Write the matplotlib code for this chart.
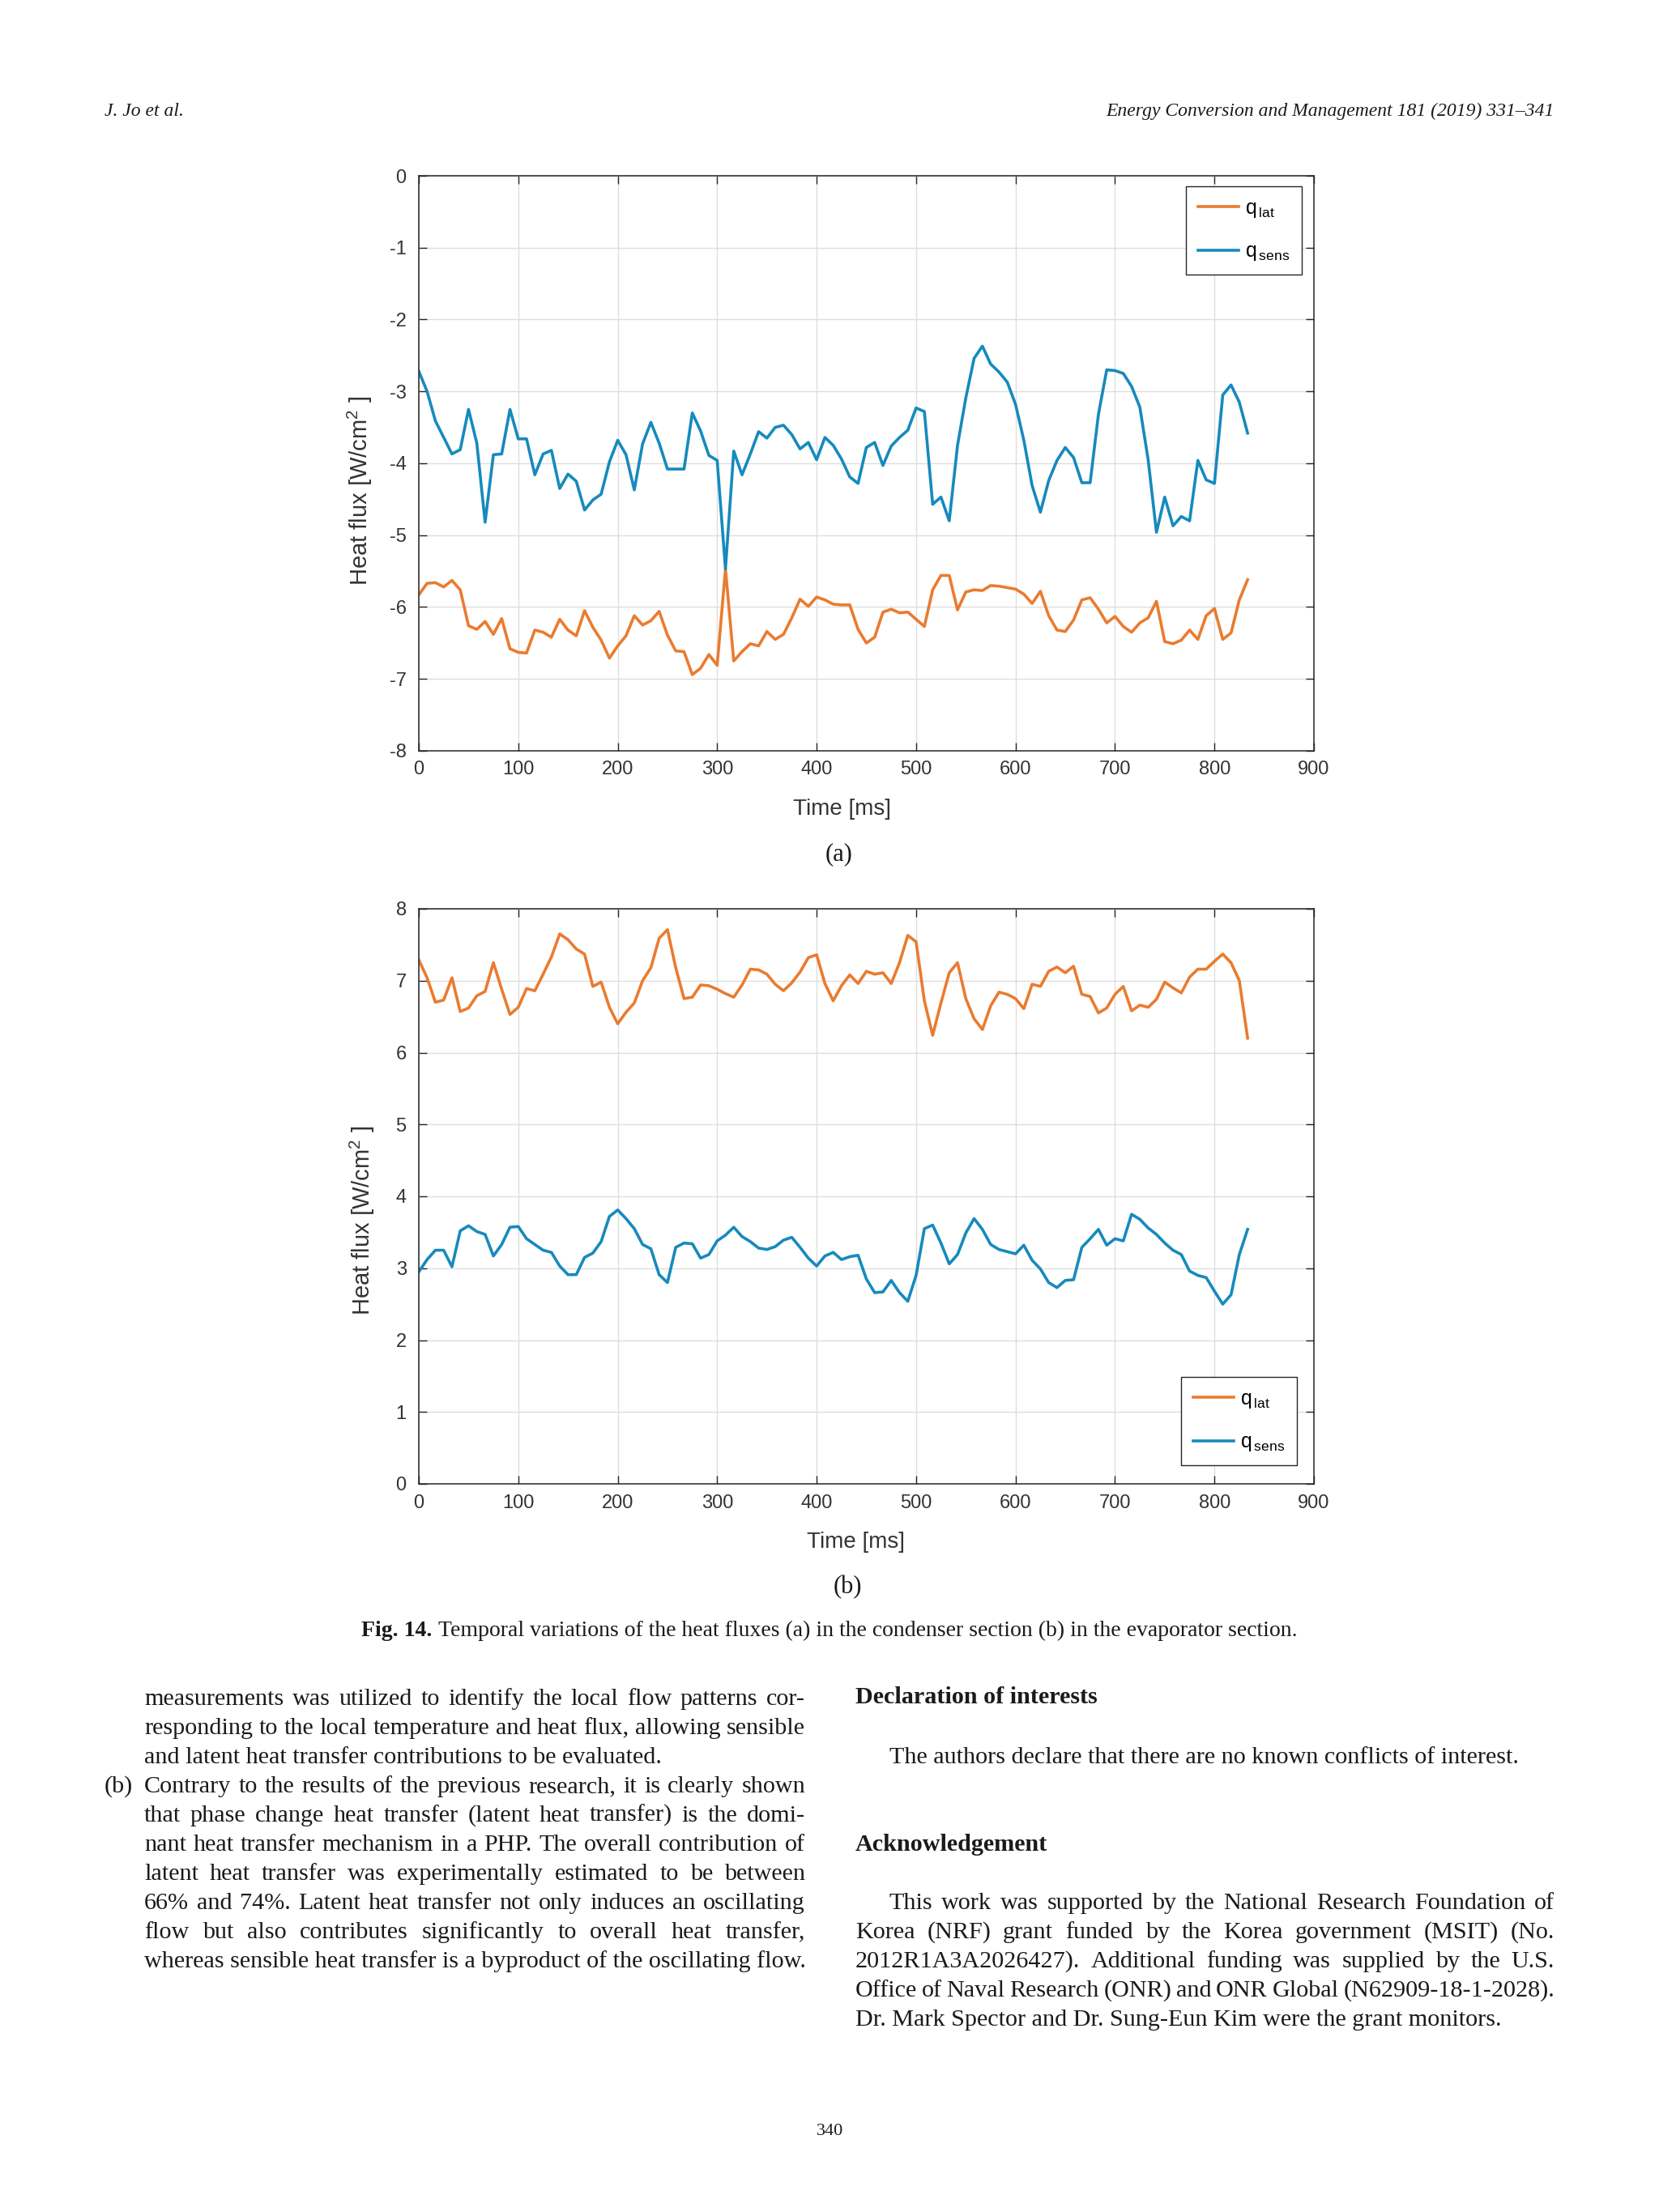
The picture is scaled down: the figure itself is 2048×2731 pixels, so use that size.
import numpy as np
import matplotlib
matplotlib.use("Agg")
import matplotlib.pyplot as plt

W, H = 2048, 2731
DPI = 100

# ---------------- data ----------------
sample_interval_ms = 25 / 3          # 120 Hz sampling
time_ms = np.arange(101) * sample_interval_ms

cond_lat = [-5.83, -5.67, -5.66, -5.72, -5.63, -5.76, -6.26, -6.31, -6.20, -6.38,
            -6.16, -6.58, -6.63, -6.64, -6.32, -6.35, -6.42, -6.17, -6.32, -6.40,
            -6.05, -6.28, -6.46, -6.71, -6.54, -6.40, -6.12, -6.25, -6.19, -6.06,
            -6.39, -6.61, -6.62, -6.94, -6.85, -6.66, -6.81, -5.47, -6.75, -6.62,
            -6.51, -6.54, -6.34, -6.45, -6.38, -6.15, -5.89, -5.99, -5.86, -5.90,
            -5.96, -5.97, -5.97, -6.31, -6.50, -6.42, -6.07, -6.03, -6.08, -6.07,
            -6.17, -6.27, -5.76, -5.56, -5.56, -6.04, -5.79, -5.76, -5.77, -5.70,
            -5.71, -5.73, -5.75, -5.82, -5.95, -5.78, -6.12, -6.32, -6.34, -6.18,
            -5.90, -5.87, -6.03, -6.22, -6.13, -6.27, -6.35, -6.22, -6.15, -5.92,
            -6.48, -6.51, -6.46, -6.32, -6.45, -6.12, -6.02, -6.45, -6.36, -5.90,
            -5.62]

cond_sens = [-2.72, -3.00, -3.41, -3.64, -3.87, -3.81, -3.25, -3.72, -4.82, -3.88,
             -3.87, -3.25, -3.66, -3.66, -4.16, -3.87, -3.82, -4.35, -4.15, -4.25,
             -4.65, -4.51, -4.43, -3.98, -3.68, -3.88, -4.37, -3.73, -3.43, -3.72,
             -4.08, -4.08, -4.08, -3.30, -3.55, -3.89, -3.96, -5.47, -3.83, -4.16,
             -3.87, -3.56, -3.65, -3.50, -3.47, -3.60, -3.80, -3.71, -3.95, -3.64,
             -3.75, -3.94, -4.19, -4.28, -3.78, -3.71, -4.03, -3.76, -3.64, -3.54,
             -3.23, -3.28, -4.57, -4.47, -4.80, -3.75, -3.09, -2.54, -2.37, -2.62,
             -2.73, -2.87, -3.18, -3.68, -4.31, -4.68, -4.24, -3.96, -3.78, -3.92,
             -4.27, -4.27, -3.32, -2.70, -2.71, -2.75, -2.93, -3.22, -3.95, -4.96,
             -4.47, -4.87, -4.74, -4.80, -3.96, -4.23, -4.28, -3.05, -2.91, -3.15,
             -3.58]

evap_lat = [7.29, 7.04, 6.70, 6.73, 7.04, 6.57, 6.62, 6.79, 6.85, 7.25,
            6.88, 6.53, 6.63, 6.89, 6.86, 7.09, 7.33, 7.65, 7.57, 7.44,
            7.37, 6.92, 6.98, 6.63, 6.40, 6.56, 6.69, 7.00, 7.18, 7.59,
            7.71, 7.18, 6.75, 6.77, 6.94, 6.93, 6.88, 6.82, 6.77, 6.94,
            7.16, 7.15, 7.09, 6.95, 6.86, 6.97, 7.12, 7.32, 7.36, 6.96,
            6.72, 6.93, 7.08, 6.96, 7.13, 7.09, 7.11, 6.96, 7.25, 7.63,
            7.54, 6.72, 6.24, 6.69, 7.11, 7.25, 6.75, 6.47, 6.32, 6.65,
            6.84, 6.81, 6.75, 6.61, 6.95, 6.92, 7.13, 7.19, 7.11, 7.20,
            6.81, 6.78, 6.55, 6.62, 6.81, 6.92, 6.58, 6.66, 6.63, 6.74,
            6.98, 6.90, 6.83, 7.05, 7.16, 7.16, 7.27, 7.37, 7.25, 7.00,
            6.20]

evap_sens = [2.95, 3.12, 3.25, 3.25, 3.02, 3.52, 3.59, 3.51, 3.47, 3.17,
             3.33, 3.57, 3.58, 3.41, 3.33, 3.25, 3.22, 3.03, 2.91, 2.91,
             3.15, 3.21, 3.37, 3.72, 3.81, 3.69, 3.55, 3.33, 3.27, 2.91,
             2.80, 3.29, 3.35, 3.34, 3.14, 3.19, 3.38, 3.46, 3.57, 3.44,
             3.37, 3.28, 3.26, 3.30, 3.39, 3.43, 3.29, 3.14, 3.03, 3.17,
             3.22, 3.12, 3.16, 3.18, 2.85, 2.66, 2.67, 2.83, 2.66, 2.54,
             2.90, 3.55, 3.60, 3.35, 3.06, 3.19, 3.49, 3.69, 3.54, 3.33,
             3.26, 3.23, 3.20, 3.32, 3.11, 2.99, 2.80, 2.73, 2.83, 2.84,
             3.29, 3.41, 3.54, 3.32, 3.41, 3.38, 3.75, 3.68, 3.56, 3.47,
             3.35, 3.25, 3.19, 2.96, 2.90, 2.87, 2.68, 2.50, 2.63, 3.19,
             3.54]

x_ticks = [0, 100, 200, 300, 400, 500, 600, 700, 800, 900]
cond_yticks = [-8, -7, -6, -5, -4, -3, -2, -1, 0]
evap_yticks = [0, 1, 2, 3, 4, 5, 6, 7, 8]
legend_labels = ["q$_{\\,\\mathregular{lat}}$", "q$_{\\,\\mathregular{sens}}$"]
x_label = "Time [ms]"
y_label = "Heat flux [W/cm$^{\\mathregular{2}}$ ]"

ORANGE = "#EA7B30"
BLUE = "#168ABD"
DARK = "#262626"
LW = 2.6

plt.rcParams["font.family"] = ["Liberation Sans", "DejaVu Sans"]
plt.rcParams["axes.unicode_minus"] = False

fig = plt.figure(figsize=(W / DPI, H / DPI), dpi=DPI)
fig.patch.set_facecolor("white")


def px_axes(left, top, right, bottom):
    return fig.add_axes([left / W, 1 - bottom / H, (right - left) / W, (bottom - top) / H])


def style_axes(ax, yticks):
    ax.set_xlim(0, 900)
    ax.set_ylim(yticks[0], yticks[-1])
    ax.set_xticks(x_ticks)
    ax.set_yticks(yticks)
    ax.grid(True, color="#dedede", linewidth=1.0)
    ax.set_axisbelow(True)
    for s in ax.spines.values():
        s.set_color(DARK)
        s.set_linewidth(1.1)
    ax.tick_params(direction="in", top=True, right=True, length=7, width=1.0,
                   colors=DARK, labelsize=17)
    ax.tick_params(axis="x", pad=9)
    ax.tick_params(axis="y", pad=11)
    for lab in ax.get_xticklabels() + ax.get_yticklabels():
        lab.set_color("#333333")
    ax.set_xlabel(x_label, fontsize=20, color="#333333")
    ax.set_ylabel(y_label, fontsize=21, color="#333333")


LEG_KW = dict(fontsize=18, fancybox=False, framealpha=1, edgecolor=DARK,
              handlelength=2.0, handletextpad=0.3, labelspacing=1.1,
              borderpad=0.6, borderaxespad=0)

# ---- (a) condenser ----
ax1 = px_axes(517, 217, 1622, 927)
ax1.plot(time_ms, cond_lat, color=ORANGE, lw=LW, label=legend_labels[0])
ax1.plot(time_ms, cond_sens, color=BLUE, lw=LW, label=legend_labels[1])
style_axes(ax1, cond_yticks)
ax1.xaxis.set_label_coords(0.473, -0.083)
ax1.yaxis.set_label_coords(-0.05, 0.452)
leg1 = ax1.legend(loc="upper right", bbox_to_anchor=(0.9864, 0.9817), **LEG_KW)
leg1.get_frame().set_linewidth(1.0)

# ---- (b) evaporator ----
ax2 = px_axes(517, 1122, 1622, 1832)
ax2.plot(time_ms, evap_lat, color=ORANGE, lw=LW, label=legend_labels[0])
ax2.plot(time_ms, evap_sens, color=BLUE, lw=LW, label=legend_labels[1])
style_axes(ax2, evap_yticks)
ax2.xaxis.set_label_coords(0.488, -0.083)
ax2.yaxis.set_label_coords(-0.047, 0.458)
leg2 = ax2.legend(loc="lower right", bbox_to_anchor=(0.981, 0.032), **LEG_KW)
leg2.get_frame().set_linewidth(1.0)

# ---------------- page text ----------------
SERIF = ["Liberation Serif", "DejaVu Serif"]
renderer = fig.canvas.get_renderer()


def ptext(x, y, s, **kw):
    kw.setdefault("family", SERIF)
    kw.setdefault("color", "#1a1a1a")
    return fig.text(x / W, 1 - y / H, s, **kw)


def width_of(t):
    return t.get_window_extent(renderer).width


# header
ptext(129, 143, "J. Jo et al.", fontsize=17, style="italic", va="baseline", ha="left")
ptext(1919, 143, "Energy Conversion and Management 181 (2019) 331\u2013341",
      fontsize=17, style="italic", va="baseline", ha="right")

# sub-figure labels
ptext(1036, 1062, "(a)", fontsize=22, va="baseline", ha="center")
ptext(1046, 1967, "(b)", fontsize=22, va="baseline", ha="center")

# caption (bold "Fig. 14." + regular text), centered on x=1024
CAP = 20
cap_b = ptext(0, 2020, "Fig. 14. ", fontsize=CAP, weight="bold", va="baseline")
cap_r = ptext(0, 2020, "Temporal variations of the heat fluxes (a) in the condenser "
              "section (b) in the evaporator section.", fontsize=CAP, va="baseline")
wb, wr = width_of(cap_b), width_of(cap_r)
x0 = 1024 - (wb + wr) / 2
cap_b.set_position((x0 / W, 1 - 2020 / H))
cap_r.set_position(((x0 + wb) / W, 1 - 2020 / H))

BODY = 21.7


def line(x0, x1, y, s, justify=True, **kw):
    kw.setdefault("fontsize", BODY)
    words = s.split(" ")
    if not justify or len(words) == 1:
        ptext(x0, y, s, va="baseline", ha="left", **kw)
        return
    ts = [ptext(0, y, w, va="baseline", ha="left", **kw) for w in words]
    ws = [width_of(t) for t in ts]
    gap = (x1 - x0 - sum(ws)) / (len(ws) - 1)
    x = x0
    for t, w in zip(ts, ws):
        t.set_position((x / W, 1 - y / H))
        x += w + gap


LX0, LX1 = 178, 994
left_lines = [
    ("measurements was utilized to identify the local flow patterns cor-", True),
    ("responding to the local temperature and heat flux, allowing sensible", True),
    ("and latent heat transfer contributions to be evaluated.", False),
    ("Contrary to the results of the previous research, it is clearly shown", True),
    ("that phase change heat transfer (latent heat transfer) is the domi-", True),
    ("nant heat transfer mechanism in a PHP. The overall contribution of", True),
    ("latent heat transfer was experimentally estimated to be between", True),
    ("66% and 74%. Latent heat transfer not only induces an oscillating", True),
    ("flow but also contributes significantly to overall heat transfer,", True),
    ("whereas sensible heat transfer is a byproduct of the oscillating flow.", False),
]
base_y = [2105, 2141, 2177, 2213, 2249, 2285, 2321, 2357, 2393, 2429]
for (s, j), y in zip(left_lines, base_y):
    line(LX0, LX1, y, s, justify=j)
ptext(129, base_y[3], "(b)", fontsize=BODY, va="baseline", ha="left")

RX0, RX1, RIND = 1056, 1919, 1098
ptext(RX0, 2103, "Declaration of interests", fontsize=BODY, weight="bold",
      va="baseline", ha="left")
ptext(RIND, 2177, "The authors declare that there are no known conflicts of interest.",
      fontsize=BODY, va="baseline", ha="left")
ptext(RX0, 2285, "Acknowledgement", fontsize=BODY, weight="bold",
      va="baseline", ha="left")
ack = [
    ("This work was supported by the National Research Foundation of", True, RIND),
    ("Korea (NRF) grant funded by the Korea government (MSIT) (No.", True, RX0),
    ("2012R1A3A2026427). Additional funding was supplied by the U.S.", True, RX0),
    ("Office of Naval Research (ONR) and ONR Global (N62909-18-1-2028).", True, RX0),
    ("Dr. Mark Spector and Dr. Sung-Eun Kim were the grant monitors.", False, RX0),
]
for (s, j, xs), y in zip(ack, [2357, 2393, 2429, 2465, 2501]):
    line(xs, RX1, y, s, justify=j)

# page number
ptext(1025, 2636, "340", fontsize=16, va="baseline", ha="center")

fig.savefig("out.png", dpi=DPI, facecolor="white")
